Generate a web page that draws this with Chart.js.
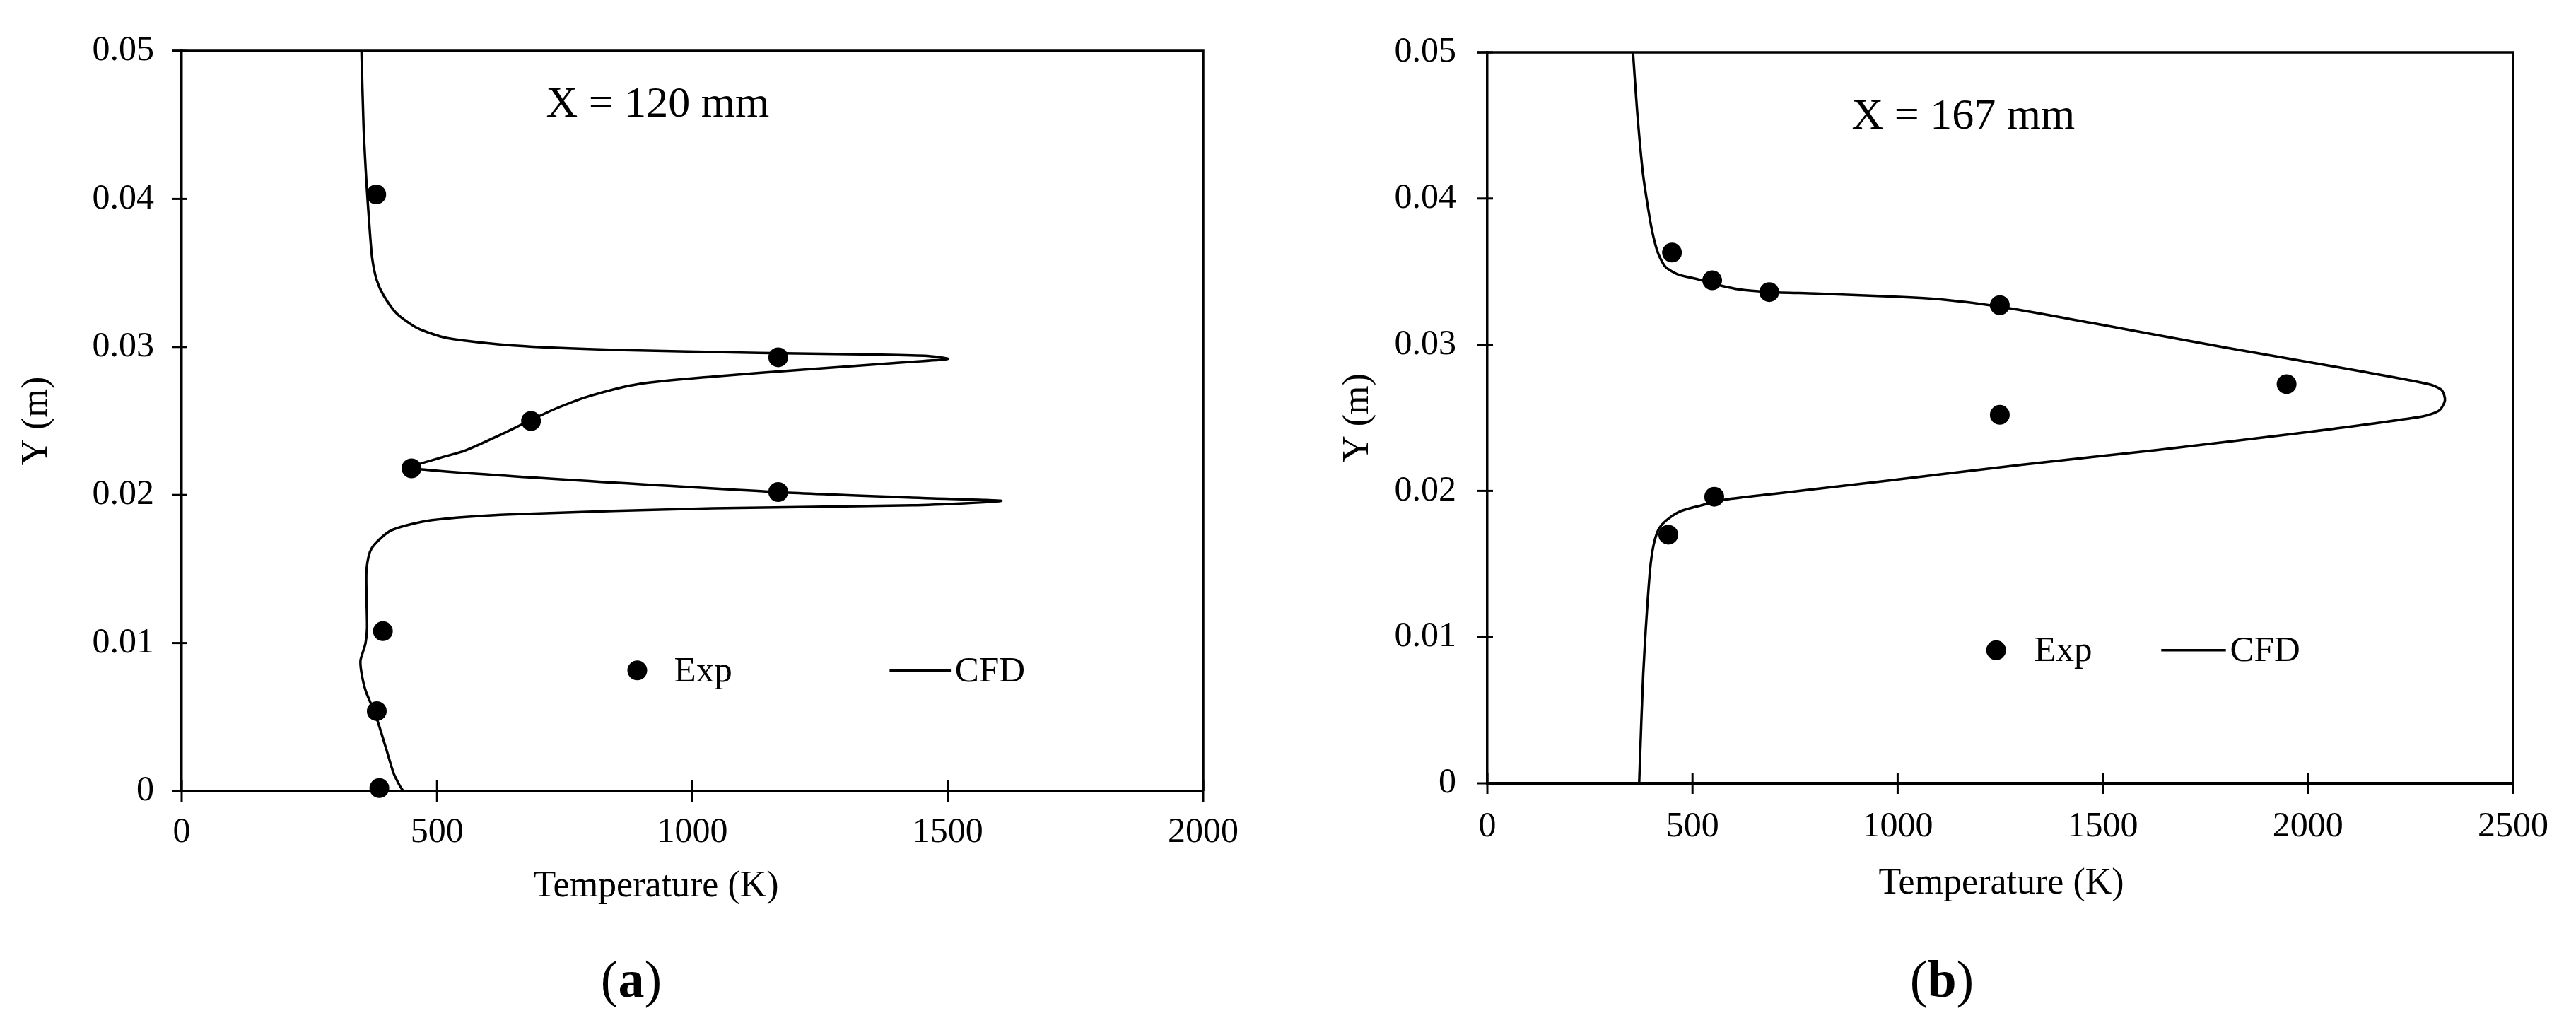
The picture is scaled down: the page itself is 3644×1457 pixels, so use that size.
<!DOCTYPE html>
<html><head><meta charset="utf-8">
<script src="https://cdn.jsdelivr.net/npm/chart.js@4.4.1/dist/chart.umd.min.js"></script>
<style>
html,body{margin:0;padding:0;background:#fff;}
#wrap{position:relative;width:3644px;height:1457px;overflow:hidden;background:#fff;}
canvas{position:absolute;top:0;}
.cap{position:absolute;font-family:"Liberation Serif","Times New Roman",serif;font-size:74px;line-height:1;transform:translate(-50%,-50%);color:#000;white-space:nowrap;}
.cap b{font-weight:bold;}
</style></head><body>
<div id="wrap">
<canvas id="ca" width="1822" height="1457" style="left:0;width:1822px;height:1457px"></canvas>
<canvas id="cb" width="1822" height="1457" style="left:1822px;width:1822px;height:1457px"></canvas>
<div class="cap" style="left:893px;top:1385px">(<b>a</b>)</div>
<div class="cap" style="left:2747px;top:1385px">(<b>b</b>)</div>
</div>
<script>
// ---------- data ----------
const yTickLabels = ['0','0.01','0.02','0.03','0.04','0.05'];
const xTickLabelsA = ['0','500','1000','1500','2000'];
const xTickLabelsB = ['0','500','1000','1500','2000','2500'];
const seriesNames = ['Exp','CFD'];
const panelTitles = ['X = 120 mm','X = 167 mm'];
const xAxisTitle = 'Temperature (K)';
const yAxisTitle = 'Y (m)';

// panel (a) X = 120 mm
const expA_T = [381,1168,684,450,1168,394,382,387];
const expA_Y = [0.0403,0.0293,0.0250,0.0218,0.0202,0.0108,0.0054,0.0002];
const cfdA_T = [352,356,362,368,373,382,395,420,460,520,650,850,1130,1330,1455,1500,1430,1230,1040,895,800,730,680,620,555,505,448,1164,1450,1605,1430,1040,650,490,410,372,362,362,363,360,354,350,352,360,380,400,415,428,434];
const cfdA_Y = [0.0500,0.0450,0.0410,0.0380,0.0360,0.0345,0.0335,0.0323,0.0313,0.0306,0.0301,0.0298,0.0296,0.0295,0.0294,0.0292,0.0290,0.0285,0.0280,0.0275,0.0267,0.0258,0.0250,0.0240,0.0230,0.0225,0.0218,0.0202,0.0198,0.0196,0.0193,0.0191,0.0187,0.0183,0.0176,0.0164,0.0150,0.0130,0.0110,0.0100,0.0093,0.0088,0.0080,0.0068,0.0051,0.0029,0.0012,0.0003,0.0000];

// panel (b) X = 167 mm
const expB_T = [450,548,687,1249,1948,1249,553,441];
const expB_Y = [0.0363,0.0344,0.0336,0.0327,0.0273,0.0252,0.0196,0.0170];
const cfdB_T = [355,365,378,388,400,410,420,435,465,510,547,610,690,800,975,1105,1249,1470,1800,2125,2295,2326,2334,2320,2280,1964,1634,1305,975,700,580,520,470,437,418,406,398,392,386,380,375,370];
const cfdB_Y = [0.0500,0.0460,0.0420,0.0400,0.0380,0.0368,0.0360,0.0353,0.0348,0.0345,0.0342,0.0338,0.0336,0.0335,0.0333,0.0331,0.0326,0.0315,0.0298,0.0282,0.0273,0.0269,0.0262,0.0255,0.0251,0.0239,0.0228,0.0218,0.0207,0.0198,0.0194,0.0190,0.0186,0.0180,0.0174,0.0164,0.0150,0.0130,0.0105,0.0075,0.0040,0.0000];

// ---------- helpers ----------
const FONT = '"Liberation Serif", "Times New Roman", serif';
function pts(T, Y){ return T.map((t,i)=>({x:t, y:Y[i]})); }

const decor = {
  id:'decor',
  afterDraw(chart, args, o){
    const {ctx, chartArea:a, scales:{x, y}} = chart;
    ctx.save();
    ctx.strokeStyle = '#000'; ctx.lineCap = 'butt';
    // frame top & right
    ctx.lineWidth = 3.5;
    ctx.beginPath(); ctx.moveTo(a.left - 14, a.top); ctx.lineTo(a.right, a.top); ctx.lineTo(a.right, a.bottom); ctx.stroke();
    // crossing tick marks
    ctx.lineWidth = 3;
    x.ticks.forEach((t,i)=>{ const px = x.getPixelForTick(i); ctx.beginPath(); ctx.moveTo(px, a.bottom-15); ctx.lineTo(px, a.bottom+15); ctx.stroke(); });
    y.ticks.forEach((t,i)=>{ const py = y.getPixelForTick(i); ctx.beginPath(); ctx.moveTo(a.left-14, py); ctx.lineTo(a.left+8, py); ctx.stroke(); });
    // texts
    ctx.fillStyle = '#000'; ctx.textAlign = 'center'; ctx.textBaseline = 'middle';
    ctx.font = `62px ${FONT}`;
    ctx.fillText(o.title, a.left + o.titlePos[0]*a.width, a.top + o.titlePos[1]*a.height);
    ctx.font = `52px ${FONT}`;
    ctx.fillText(xAxisTitle, o.xTitle[0], o.xTitle[1]);
    ctx.save(); ctx.translate(o.yTitleX, (a.top + a.bottom)/2); ctx.rotate(-Math.PI/2); ctx.fillText(yAxisTitle, 0, 0); ctx.restore();
    // legend
    const d0 = chart.data.datasets[0], d1 = chart.data.datasets[1];
    const L = o.legend, ly = a.top + L.y*a.height;
    ctx.beginPath(); ctx.arc(a.left + L.dot*a.width, ly, d0.pointRadius, 0, Math.PI*2);
    ctx.fillStyle = d0.backgroundColor; ctx.fill();
    ctx.fillStyle = '#000'; ctx.textAlign = 'left'; ctx.font = `51px ${FONT}`;
    ctx.fillText(d0.label, a.left + L.expText*a.width, ly + 2);
    ctx.strokeStyle = d1.borderColor; ctx.lineWidth = d1.borderWidth;
    ctx.beginPath(); ctx.moveTo(a.left + L.line[0]*a.width, ly); ctx.lineTo(a.left + L.line[1]*a.width, ly); ctx.stroke();
    ctx.fillText(d1.label, a.left + L.cfdText*a.width, ly + 2);
    ctx.restore();
  }
};

function build(id, expT, expY, cfdT, cfdY, xMax, xLabels, lay, deco){
  return new Chart(document.getElementById(id), {
    type:'scatter',
    data:{datasets:[
      {label:seriesNames[0], data:pts(expT, expY), pointRadius:14, pointHoverRadius:14, pointStyle:'circle',
       backgroundColor:'#000', borderColor:'#000', borderWidth:0, showLine:false, clip:false, order:0},
      {label:seriesNames[1], data:pts(cfdT, cfdY), showLine:true, borderColor:'#000', backgroundColor:'#000',
       borderWidth:3.5, pointRadius:0, pointHoverRadius:0, tension:0.25, fill:false, clip:false, order:1}
    ]},
    options:{
      responsive:false, animation:false, events:[],
      layout:{padding:{left:0, top:lay.top, right:lay.right, bottom:lay.bottom}},
      plugins:{legend:{display:false}, tooltip:{enabled:false}, title:{display:false}, decor:deco},
      scales:{
        x:{type:'linear', position:'bottom', min:0, max:xMax,
           afterFit(s){ s.height = lay.xh; },
           ticks:{stepSize:500, autoSkip:false, maxRotation:0, padding:lay.xpad, color:'#000',
                  font:{family:FONT, size:50}, callback:(v,i)=>xLabels[i]},
           grid:{display:true, drawOnChartArea:false, drawTicks:false, color:'#000'},
           border:{display:true, color:'#000', width:4}},
        y:{type:'linear', position:'left', min:0, max:0.05,
           afterFit(s){ s.width = lay.yw; },
           ticks:{stepSize:0.01, autoSkip:false, padding:lay.ypad, color:'#000',
                  font:{family:FONT, size:50}, callback:(v,i)=>yTickLabels[i]},
           grid:{display:true, drawOnChartArea:false, drawTicks:false, color:'#000'},
           border:{display:true, color:'#000', width:3.5}}
      }
    },
    plugins:[decor]
  });
}

build('ca', expA_T, expA_Y, cfdA_T, cfdA_Y, 2000, xTickLabelsA,
  {yw:257, top:72, right:120, xh:100, bottom:238, xpad:29, ypad:39},
  {title:panelTitles[0], titlePos:[0.466,0.073], xTitle:[928,1254], yTitleX:52,
   legend:{y:0.837, dot:0.446, expText:0.482, line:[0.693,0.753], cfdText:0.757}});

build('cb', expB_T, expB_Y, cfdB_T, cfdB_Y, 2500, xTickLabelsB,
  {yw:282, top:72, right:89, xh:100, bottom:249, xpad:32, ypad:44},
  {title:panelTitles[1], titlePos:[0.464,0.089], xTitle:[1009,1250], yTitleX:99,
   legend:{y:0.818, dot:0.496, expText:0.533, line:[0.657,0.720], cfdText:0.724}});
</script>
</body></html>
